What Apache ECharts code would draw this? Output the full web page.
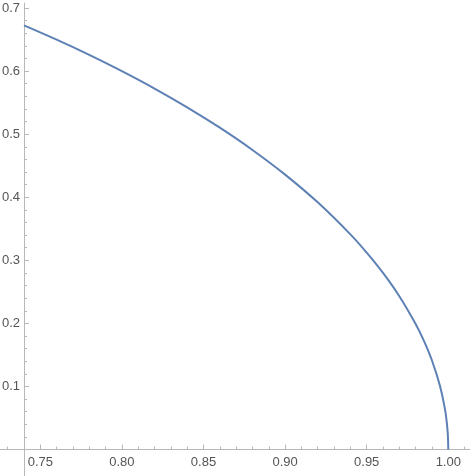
<!DOCTYPE html>
<html>
<head>
<meta charset="utf-8">
<script src="https://cdn.jsdelivr.net/npm/echarts@6/dist/echarts.min.js"></script>
<style>html,body{margin:0;padding:0;background:#fff}#c{width:474px;height:476px}</style>
</head>
<body>
<div id="c"></div>
<script>
// curve values
const xValues = [0.74, 0.76, 0.78, 0.80, 0.82, 0.84, 0.86, 0.88, 0.90, 0.92, 0.94, 0.95, 0.96, 0.97, 0.98, 0.985, 0.99, 0.995, 0.998, 0.999, 0.9997, 1.0];
const yValues = [0.6726, 0.6499, 0.6258, 0.6000, 0.5724, 0.5426, 0.5103, 0.4750, 0.4359, 0.3919, 0.3412, 0.3122, 0.2800, 0.2431, 0.1990, 0.1726, 0.1411, 0.0999, 0.0632, 0.0447, 0.0245, 0.0];
// tick labels
const xTickLabels = [0.75, 0.80, 0.85, 0.90, 0.95, 1.00];
const xMinorTicks = [0.73, 0.74, 0.76, 0.77, 0.78, 0.79, 0.81, 0.82, 0.83, 0.84, 0.86, 0.87, 0.88, 0.89, 0.91, 0.92, 0.93, 0.94, 0.96, 0.97, 0.98, 0.99, 1.01];
const yTickLabels = [0.1, 0.2, 0.3, 0.4, 0.5, 0.6, 0.7];
const yMinorTicks = [0.02, 0.04, 0.06, 0.08, 0.12, 0.14, 0.16, 0.18, 0.22, 0.24, 0.26, 0.28, 0.32, 0.34, 0.36, 0.38, 0.42, 0.44, 0.46, 0.48, 0.52, 0.54, 0.56, 0.58, 0.62, 0.64, 0.66, 0.68];

const points = xValues.map((x, i) => [x, yValues[i]]);
const axisColor = '#b8b8b8';
const labelStyle = { color: '#555', fontSize: 13, fontFamily: 'Liberation Sans, Arial, sans-serif' };

const chart = echarts.init(document.getElementById('c'), null, { renderer: 'canvas' });
chart.setOption({
  animation: false,
  grid: { left: 0, right: 4, top: 3, bottom: 0, containLabel: false, outerBoundsMode: 'none' },
  xAxis: [
    {
      type: 'value', min: 0.7253, max: 1.0133, position: 'bottom', offset: -26.5,
      axisLine: { show: true, onZero: false, lineStyle: { color: axisColor, width: 1 } },
      axisTick: { show: true, inside: true, length: 5, customValues: xTickLabels, lineStyle: { color: axisColor } },
      axisLabel: Object.assign({ show: true, margin: 6, customValues: xTickLabels, formatter: v => v.toFixed(2) }, labelStyle),
      splitLine: { show: false }
    },
    {
      type: 'value', min: 0.7253, max: 1.0133, position: 'bottom', offset: -26.5,
      axisLine: { show: false, onZero: false },
      axisTick: { show: true, inside: true, length: 3, customValues: xMinorTicks, lineStyle: { color: axisColor } },
      axisLabel: { show: false },
      splitLine: { show: false }
    }
  ],
  yAxis: [
    {
      type: 'value', min: -0.042, max: 0.708, position: 'left', offset: -24,
      axisLine: { show: true, onZero: false, lineStyle: { color: axisColor, width: 1 } },
      axisTick: { show: true, inside: true, length: 5, customValues: yTickLabels, lineStyle: { color: axisColor } },
      axisLabel: Object.assign({ show: true, margin: 4, customValues: yTickLabels, formatter: v => v.toFixed(1) }, labelStyle),
      splitLine: { show: false }
    },
    {
      type: 'value', min: -0.042, max: 0.708, position: 'left', offset: -24,
      axisLine: { show: false, onZero: false },
      axisTick: { show: true, inside: true, length: 3, customValues: yMinorTicks, lineStyle: { color: axisColor } },
      axisLabel: { show: false },
      splitLine: { show: false }
    }
  ],
  series: [{
    type: 'line', xAxisIndex: 0, yAxisIndex: 0, data: points,
    showSymbol: false, symbol: 'none', smooth: 0.4,
    lineStyle: { color: '#5E81B5', width: 2 }
  }]
});
</script>
</body>
</html>
